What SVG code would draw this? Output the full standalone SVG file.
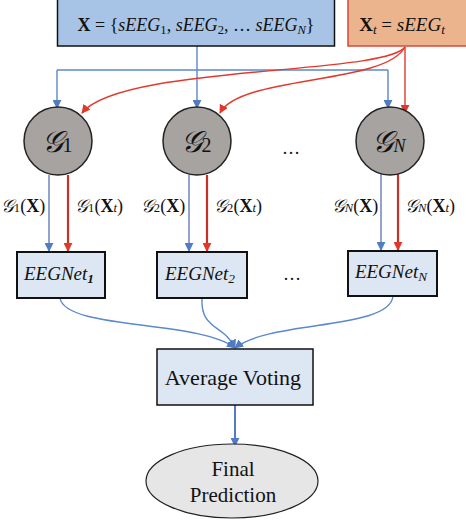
<svg xmlns="http://www.w3.org/2000/svg" width="466" height="520" viewBox="0 0 466 520">
<defs>
<marker id="ab2" viewBox="0 0 10 10" refX="9" refY="5" markerWidth="9" markerHeight="9" orient="auto" markerUnits="userSpaceOnUse"><path d="M0,0 L10,5 L0,10 Z" fill="#4f7cc2"/></marker>
<marker id="ar2" viewBox="0 0 10 10" refX="9" refY="5" markerWidth="9" markerHeight="9" orient="auto" markerUnits="userSpaceOnUse"><path d="M0,0 L10,5 L0,10 Z" fill="#e0392b"/></marker>
</defs>
<style>
text{font-family:"Liberation Serif","DejaVu Serif",serif;fill:#111}
.b{font-weight:bold}
.i{font-style:italic}
.sub{font-size:70%}
.circ{fill:#a7a3a1;stroke:#222;stroke-width:1.5}
.box{fill:#dde7f3;stroke:#111;stroke-width:2}
.bl{fill:none;stroke:#5a89cc;stroke-width:1.4}
.rd{fill:none;stroke:#e3392b;stroke-width:1.4}
.bl2{fill:none;stroke:#4a64b0;stroke-width:1.2}
.rd2{fill:none;stroke:#c8302a;stroke-width:2.2}
.g{font-family:"DejaVu Serif","Liberation Serif",serif;font-style:italic}
</style>
<g id="connectors">
<path class="bl" d="M197,46 V70"/>
<path class="bl" d="M57,70 H388"/>
<path class="bl" d="M57,70 V108" marker-end="url(#ab2)"/>
<path class="bl" d="M197,70 V108" marker-end="url(#ab2)"/>
<path class="bl" d="M388,70 V108" marker-end="url(#ab2)"/>
<path class="rd" d="M405,47 V113" marker-end="url(#ar2)"/>
<path class="rd" d="M405,47 C385,75 120,65 82,113" marker-end="url(#ar2)"/>
<path class="rd" d="M405,47 C385,85 240,75 220,113" marker-end="url(#ar2)"/>
<path class="bl2" d="M49,175 V251" marker-end="url(#ab2)"/>
<path class="rd2" d="M68,175 V251" marker-end="url(#ar2)"/>
<path class="bl2" d="M189,175 V251" marker-end="url(#ab2)"/>
<path class="rd2" d="M207,175 V251" marker-end="url(#ar2)"/>
<path class="bl2" d="M381,174 V250" marker-end="url(#ab2)"/>
<path class="rd2" d="M398,174 V250" marker-end="url(#ar2)"/>
<path class="bl" d="M60,298 C65,330 200,320 235,348" marker-end="url(#ab2)"/>
<path class="bl" d="M202,298 C200,330 225,325 235,348" marker-end="url(#ab2)"/>
<path class="bl" d="M393,296 C390,330 270,320 235,348" marker-end="url(#ab2)"/>
<path class="bl" d="M235,405 V446" marker-end="url(#ab2)" style="stroke:#4f7cc2;stroke-width:2"/>
</g>
<g id="X">
<rect x="57.5" y="-2" width="277" height="48" fill="#a7c3e6" stroke="#111" stroke-width="1.5"/>
<text x="196" y="31" font-size="18" text-anchor="middle"><tspan class="b">X</tspan> = {<tspan class="i">sEEG</tspan><tspan class="sub" dy="3">1</tspan><tspan dy="-3">, </tspan><tspan class="i">sEEG</tspan><tspan class="sub" dy="3">2</tspan><tspan dy="-3">, … </tspan><tspan class="i">sEEG</tspan><tspan class="sub i" dy="3">N</tspan><tspan dy="-3">}</tspan></text>
</g>
<g id="Xt">
<rect x="348" y="-2" width="120" height="48" fill="#ebb48c" stroke="#d8473b" stroke-width="1.5"/>
<text x="402" y="31" font-size="19" text-anchor="middle"><tspan class="b">X</tspan><tspan class="sub i" dy="3">t</tspan><tspan dy="-3"> = </tspan><tspan class="i">sEEG</tspan><tspan class="sub i" dy="3">t</tspan></text>
</g>
<g id="G1">
<circle class="circ" cx="58" cy="141" r="34"/>
<text x="57" y="152" font-size="30" text-anchor="middle"><tspan class="g">𝒢</tspan><tspan font-size="20">1</tspan></text>
</g>
<g id="G2">
<circle class="circ" cx="197" cy="141" r="34"/>
<text x="196" y="152" font-size="30" text-anchor="middle"><tspan class="g">𝒢</tspan><tspan font-size="20">2</tspan></text>
</g>
<g id="dots1"><text x="291" y="154" font-size="18" text-anchor="middle">…</text></g>
<g id="GN">
<circle class="circ" cx="390" cy="141" r="34"/>
<text x="389" y="152" font-size="30" text-anchor="middle"><tspan class="g">𝒢</tspan><tspan font-size="18" class="i">N</tspan></text>
</g>
<g id="labels" font-size="18">
<text x="23" y="212" text-anchor="middle"><tspan class="g">𝒢</tspan><tspan class="sub">1</tspan>(<tspan class="b">X</tspan>)</text>
<text x="99" y="212" text-anchor="middle"><tspan class="g">𝒢</tspan><tspan class="sub">1</tspan>(<tspan class="b">X</tspan><tspan class="sub i">t</tspan>)</text>
<text x="163" y="212" text-anchor="middle"><tspan class="g">𝒢</tspan><tspan class="sub">2</tspan>(<tspan class="b">X</tspan>)</text>
<text x="238" y="212" text-anchor="middle"><tspan class="g">𝒢</tspan><tspan class="sub">2</tspan>(<tspan class="b">X</tspan><tspan class="sub i">t</tspan>)</text>
<text x="355" y="212" text-anchor="middle"><tspan class="g">𝒢</tspan><tspan class="sub i">N</tspan>(<tspan class="b">X</tspan>)</text>
<text x="430" y="212" text-anchor="middle"><tspan class="g">𝒢</tspan><tspan class="sub i">N</tspan>(<tspan class="b">X</tspan><tspan class="sub i">t</tspan>)</text>
</g>
<g id="EEGNet1">
<rect class="box" x="17" y="252" width="88" height="46"/>
<text x="59" y="280" font-size="19" text-anchor="middle" class="i">EEGNet<tspan class="sub b" dy="3">1</tspan></text>
</g>
<g id="EEGNet2">
<rect class="box" x="157" y="252" width="90" height="46"/>
<text x="200" y="280" font-size="19" text-anchor="middle" class="i">EEGNet<tspan class="sub" dy="3">2</tspan></text>
</g>
<g id="dots2"><text x="292" y="280" font-size="18" text-anchor="middle">…</text></g>
<g id="EEGNetN">
<rect class="box" x="348" y="251" width="89" height="45"/>
<text x="391" y="278" font-size="19" text-anchor="middle" class="i">EEGNet<tspan class="sub" dy="3">N</tspan></text>
</g>
<g id="avg">
<rect x="157" y="349" width="156" height="56" fill="#dde7f3" stroke="#111" stroke-width="1.5"/>
<text x="233" y="385" font-size="22" text-anchor="middle">Average Voting</text>
</g>
<g id="final">
<ellipse cx="232" cy="481" rx="86" ry="37" fill="#e6e6e6" stroke="#222" stroke-width="1.2"/>
<text x="233" y="476" font-size="21" text-anchor="middle">Final</text>
<text x="233" y="502" font-size="21" text-anchor="middle">Prediction</text>
</g>
</svg>
